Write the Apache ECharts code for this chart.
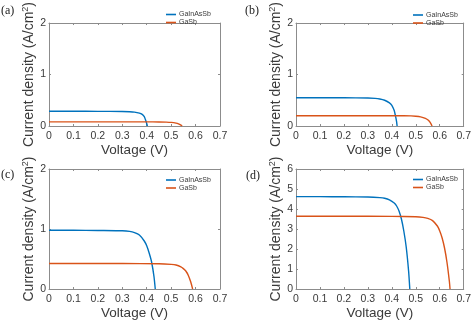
<!DOCTYPE html>
<html>
<head>
<meta charset="utf-8">
<script src="https://cdn.jsdelivr.net/npm/echarts@6/dist/echarts.min.js"></script>
<style>
  html, body { margin: 0; padding: 0; background: #fff; }
  #chart { width: 474px; height: 321px; }
</style>
</head>
<body>
<div id="chart"></div>
<script>
// J–V curves of the two cells, [voltage (V), current density (A/cm^2)]
const seriesNames = ['GaInAsSb', 'GaSb'];
const panelLabels = ['(a)', '(b)', '(c)', '(d)'];
const xTicks = { min: 0, max: 0.7, step: 0.1 };
const yMax = [2, 2, 2, 6];

const aGaInAsSb = [[0,0.286],[0.1,0.286],[0.2,0.285],[0.3,0.282],[0.33,0.278],[0.35,0.27],[0.37,0.25],[0.38,0.23],[0.39,0.18],[0.395,0.12],[0.4,0.05],[0.403,0]];
const aGaSb = [[0,0.081],[0.2,0.081],[0.4,0.08],[0.45,0.079],[0.48,0.076],[0.5,0.07],[0.52,0.056],[0.53,0.042],[0.54,0.018],[0.545,0]];

const bGaInAsSb = [[0,0.55],[0.1,0.55],[0.2,0.548],[0.3,0.543],[0.33,0.537],[0.35,0.525],[0.37,0.5],[0.39,0.45],[0.4,0.4],[0.41,0.3],[0.415,0.2],[0.42,0.08],[0.422,0]];
const bGaSb = [[0,0.2],[0.3,0.2],[0.45,0.198],[0.48,0.196],[0.5,0.19],[0.52,0.178],[0.54,0.15],[0.55,0.12],[0.56,0.07],[0.568,0]];

const cGaInAsSb = [[0,0.98],[0.1,0.98],[0.2,0.975],[0.3,0.97],[0.33,0.96],[0.35,0.94],[0.37,0.9],[0.39,0.8],[0.4,0.72],[0.41,0.6],[0.42,0.45],[0.43,0.2],[0.435,0]];
const cGaSb = [[0,0.425],[0.3,0.424],[0.45,0.42],[0.5,0.41],[0.52,0.4],[0.54,0.37],[0.55,0.34],[0.56,0.3],[0.57,0.23],[0.58,0.12],[0.588,0]];

const dGaInAsSb = [[0,4.62],[0.1,4.62],[0.2,4.61],[0.3,4.6],[0.35,4.57],[0.37,4.54],[0.39,4.46],[0.41,4.3],[0.42,4.15],[0.43,3.9],[0.44,3.5],[0.45,2.9],[0.46,2.1],[0.47,0.9],[0.475,0]];
const dGaSb = [[0,3.64],[0.2,3.64],[0.4,3.63],[0.5,3.61],[0.53,3.58],[0.55,3.53],[0.57,3.42],[0.59,3.15],[0.6,2.9],[0.61,2.55],[0.62,2.05],[0.63,1.35],[0.64,0.4],[0.643,0]];

const panelData = [[aGaInAsSb, aGaSb], [bGaInAsSb, bGaSb], [cGaInAsSb, cGaSb], [dGaInAsSb, dGaSb]];

// layout
const grids = [
  { left: 49, top: 4, width: 171, height: 122 },
  { left: 296, top: 4, width: 172, height: 122 },
  { left: 49, top: 169, width: 171, height: 123 },
  { left: 296, top: 169, width: 172, height: 123 }
];
const legendPos = [
  { left: 166, top: 10.5 },
  { left: 413, top: 11 },
  { left: 166, top: 176 },
  { left: 413, top: 175.5 }
];
const labelPos = [[1, 5], [245, 5], [1, 169], [246, 170]];

const lineColors = ['#0072BD', '#D95319'];
const axisColor = '#8c8c8c';
const textColor = '#3a3a3a';
const sans = "'Liberation Sans Narrow', 'Liberation Sans', Arial, sans-serif";

const xAxes = [], yAxes = [], series = [], legends = [], graphics = [];

grids.forEach((g, i) => {
  xAxes.push({
    type: 'value', gridIndex: i, min: xTicks.min, max: xTicks.max, interval: xTicks.step,
    name: 'Voltage (V)', nameLocation: 'middle', nameGap: 17,
    nameTextStyle: { fontFamily: sans, fontSize: 13.5, color: textColor },
    axisLine: { show: true, lineStyle: { color: axisColor, width: 1 } },
    axisTick: { show: true, inside: true, length: 2, lineStyle: { color: axisColor } },
    axisLabel: { fontFamily: sans, fontSize: 10.5, color: textColor, margin: 5 },
    splitLine: { show: false }
  });
  yAxes.push({
    type: 'value', gridIndex: i, min: 0, max: yMax[i], interval: 1,
    name: 'Current density (A/cm{s|2})', nameLocation: 'middle', nameGap: 10,
    nameTextStyle: {
      fontFamily: sans, fontSize: 14, color: textColor,
      rich: { s: { fontFamily: sans, fontSize: 9, color: textColor, padding: [0, 0, 8, 0] } }
    },
    axisLine: { show: true, lineStyle: { color: axisColor, width: 1 } },
    axisTick: { show: true, inside: true, length: 2, lineStyle: { color: axisColor } },
    axisLabel: { fontFamily: sans, fontSize: 10.5, color: textColor, margin: 3 },
    splitLine: { show: false }
  });
  panelData[i].forEach((d, k) => {
    series.push({
      type: 'line', name: seriesNames[k], xAxisIndex: i, yAxisIndex: i,
      data: d, showSymbol: false, symbol: 'none', smooth: 0.2,
      lineStyle: { color: lineColors[k], width: 1.4 },
      itemStyle: { color: lineColors[k] },
      clip: true, z: 3 + k
    });
  });
  legends.push({
    data: seriesNames, orient: 'vertical', left: legendPos[i].left, top: legendPos[i].top,
    icon: 'rect', itemWidth: 10, itemHeight: 1.6, itemGap: 0, padding: 0,
    textStyle: { fontFamily: sans, fontSize: 7, lineHeight: 8, color: textColor, padding: [0, 0, 0, -2] },
    selectedMode: false
  });
  graphics.push({
    type: 'text', left: labelPos[i][0], top: labelPos[i][1],
    style: { text: panelLabels[i], font: "12px 'Liberation Serif', 'Times New Roman', serif", fill: '#222' }
  });
});

// box frame: top and right axes carry only the inward ticks
grids.forEach((g, i) => {
  xAxes.push({
    type: 'value', gridIndex: i, position: 'top', min: xTicks.min, max: xTicks.max, interval: xTicks.step,
    axisLine: { show: true, onZero: false, lineStyle: { color: axisColor, width: 1 } },
    axisTick: { show: true, inside: true, length: 2, lineStyle: { color: axisColor } },
    axisLabel: { show: false }, splitLine: { show: false }
  });
  yAxes.push({
    type: 'value', gridIndex: i, position: 'right', min: 0, max: yMax[i], interval: 1,
    axisLine: { show: true, onZero: false, lineStyle: { color: axisColor, width: 1 } },
    axisTick: { show: true, inside: true, length: 2, lineStyle: { color: axisColor } },
    axisLabel: { show: false }, splitLine: { show: false }
  });
});

const chart = echarts.init(document.getElementById('chart'), null, { renderer: 'canvas' });
chart.setOption({
  animation: false,
  backgroundColor: '#ffffff',
  grid: grids,
  xAxis: xAxes,
  yAxis: yAxes,
  legend: legends,
  series: series,
  graphic: graphics
});
</script>
</body>
</html>
